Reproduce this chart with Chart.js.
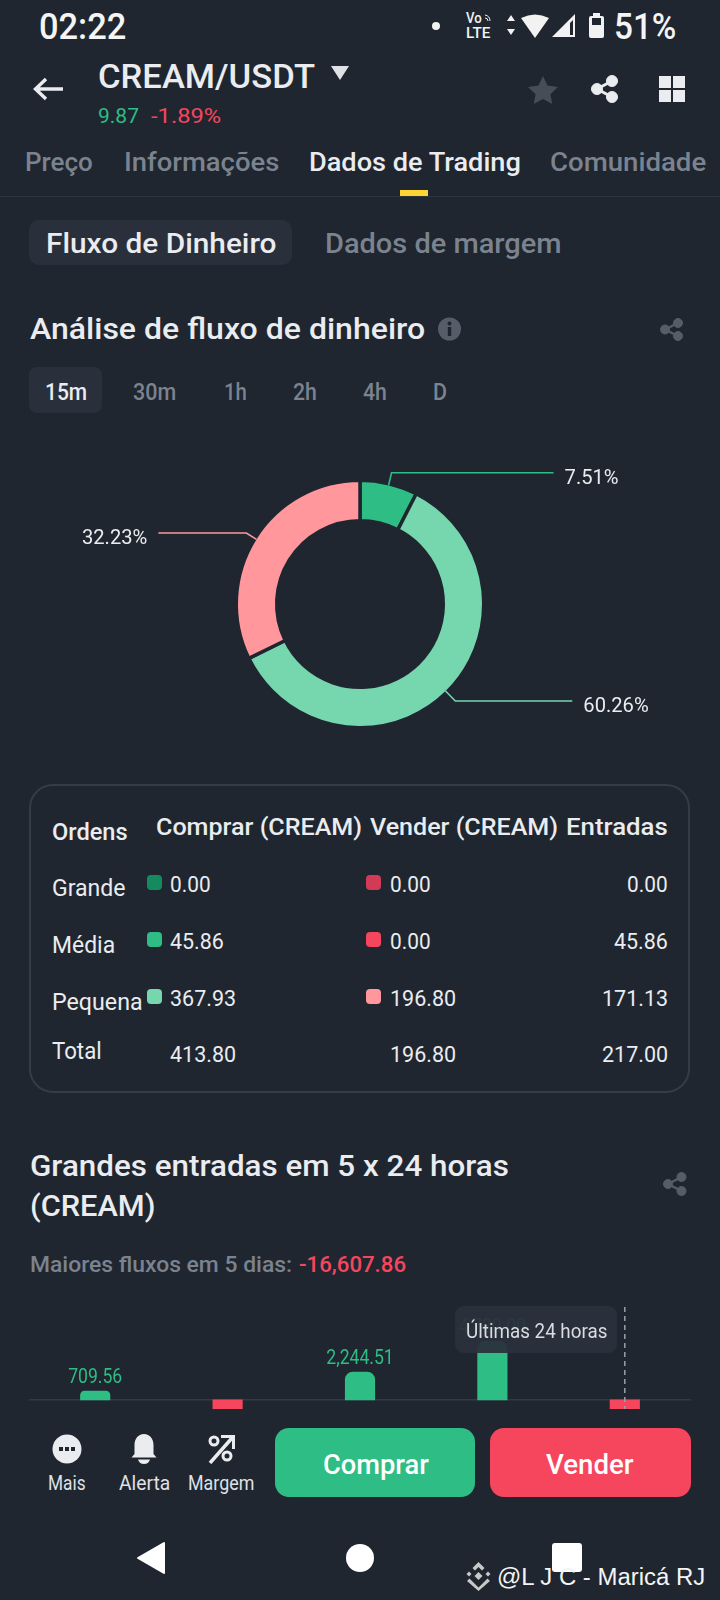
<!DOCTYPE html>
<html lang="pt">
<head>
<meta charset="utf-8">
<title>CREAM/USDT</title>
<script src="https://cdn.jsdelivr.net/npm/chart.js@4"></script>
<style>
    html, body { margin: 0; padding: 0; background: #1f2630; }
    #page { position: relative; width: 720px; height: 1600px; overflow: hidden; background: #1f2630; font-family: Roboto, sans-serif; }
    #page canvas, #page svg, .box { position: absolute; display: block; }
    .t { position: absolute; line-height: 1; white-space: nowrap; transform-origin: left center; }
</style>
</head>
<body>
<div id="page">
    <div class="box" style="left:0;top:196px;width:720px;height:1px;background:#2f3640"></div>
    <div class="box" style="left:400px;top:190px;width:28px;height:6px;background:#fcd535"></div>
    <div class="box" style="left:29px;top:220px;width:263px;height:45px;background:#29303c;border-radius:10px"></div>
    <div class="box" style="left:29px;top:367px;width:73px;height:46px;background:#29303c;border-radius:8px"></div>
    <div class="box" style="left:29px;top:784px;width:657px;height:305px;border:2px solid #363c47;border-radius:24px"></div>

    <canvas id="fluxoChart" width="720" height="328" style="left:0;top:440px;width:720px;height:328px"></canvas>
    <canvas id="entradasChart" width="662" height="299" style="left:29px;top:1301px;width:662px;height:299px"></canvas>

    <div class="box" id="tip" style="left:455px;top:1306px;width:162px;height:47px;background:rgba(43,49,60,.94);border-radius:9px"></div>
    <div class="box" id="panel" style="left:0;top:1409px;width:720px;height:191px;background:#1f2630"></div>
    <div class="box" id="btnBuy" style="left:275px;top:1428px;width:200px;height:69px;background:#2ebd85;border-radius:14px"></div>
    <div class="box" id="btnSell" style="left:490px;top:1428px;width:201px;height:69px;background:#f6465d;border-radius:14px"></div>

    <!-- barra de estado -->
    <svg style="left:430px;top:20px" width="12" height="12"><circle cx="6" cy="6" r="4" fill="#f2f2f2"/></svg>
    <svg style="left:484px;top:12px" width="12" height="14" fill="none" stroke="#f2f2f2" stroke-width="1"><path d="M1 3q5 1 5 6M1 6q3 0 3 3"/></svg>
    <svg style="left:505px;top:12px" width="175" height="30" fill="#f2f2f2">
        <path d="M6 3l4 6H2zM2 17h8l-4 6z"/>
        <path d="M16 6q14-7 28 0L30 26z"/>
        <path d="M70 25H47L70 2zM68 23V8l-3 3v12z" fill-rule="evenodd"/>
        <rect x="84" y="4" width="15" height="22" rx="2"/>
        <rect x="88" y="1" width="7" height="4"/>
        <rect x="87" y="6" width="9" height="7" fill="#1f2630"/>
    </svg>

    <!-- cabecera -->
    <svg style="left:32px;top:76px" width="32" height="26" fill="none" stroke="#eaecef" stroke-width="3.4"><path d="M31 13H4M14 3L3.5 13 14 23"/></svg>
    <svg style="left:331px;top:65px" width="19" height="16" fill="#dfe1e5"><path d="M0 1h18L9 15z"/></svg>
    <svg style="left:528px;top:76px" width="30" height="28" fill="#474d57"><path d="M15 0l4.5 9.6L30 11l-7.6 7.2L24.3 28 15 23l-9.3 5 1.9-9.8L0 11l10.5-1.4z"/></svg>
    <svg style="left:591px;top:75px" width="27" height="28" fill="#eaecef" stroke="#eaecef"><circle cx="21" cy="6" r="5.5"/><circle cx="6" cy="14" r="5.5"/><circle cx="21" cy="22" r="5.5"/><path d="M21 6L6 14l15 8" fill="none" stroke-width="3"/></svg>
    <svg style="left:659px;top:76px" width="26" height="26" fill="#eaecef"><rect width="12" height="12"/><rect x="14" width="12" height="12"/><rect y="14" width="12" height="12"/><rect x="14" y="14" width="12" height="12"/></svg>

    <!-- iconos de secciones -->
    <svg style="left:438px;top:317px" width="23" height="24"><circle cx="11.5" cy="12" r="11.5" fill="#565d69"/><rect x="9.8" y="10" width="3.4" height="9" fill="#1f2630"/><circle cx="11.5" cy="6.5" r="2" fill="#1f2630"/></svg>
    <svg style="left:660px;top:318px" width="23" height="23" fill="#565d69" stroke="#565d69"><circle cx="18" cy="5" r="4.5"/><circle cx="5" cy="11.5" r="4.5"/><circle cx="18" cy="18" r="4.5"/><path d="M18 5L5 11.5 18 18" fill="none" stroke-width="2.5"/></svg>
    <svg style="left:663px;top:1172px" width="24" height="24" fill="#565d69" stroke="#565d69"><circle cx="18.5" cy="5" r="4.5"/><circle cx="5" cy="12" r="4.5"/><circle cx="18.5" cy="19" r="4.5"/><path d="M18.5 5L5 12l13.5 7" fill="none" stroke-width="2.5"/></svg>

    <!-- cuadritos de la tabla -->
    <div class="box" style="left:147px;top:875px;width:15px;height:15px;border-radius:4px;background:#168a5f"></div>
    <div class="box" style="left:147px;top:932px;width:15px;height:15px;border-radius:4px;background:#2ebd85"></div>
    <div class="box" style="left:147px;top:989px;width:15px;height:15px;border-radius:4px;background:#76d6ae"></div>
    <div class="box" style="left:366px;top:875px;width:15px;height:15px;border-radius:4px;background:#d23a55"></div>
    <div class="box" style="left:366px;top:932px;width:15px;height:15px;border-radius:4px;background:#f6465d"></div>
    <div class="box" style="left:366px;top:989px;width:15px;height:15px;border-radius:4px;background:#ff979d"></div>

    <!-- barra inferior -->
    <svg style="left:52px;top:1434px" width="30" height="30"><circle cx="15" cy="15" r="14.5" fill="#eaecef"/><rect x="7" y="13" width="4" height="4" fill="#1f2630"/><rect x="13" y="13" width="4" height="4" fill="#1f2630"/><rect x="19" y="13" width="4" height="4" fill="#1f2630"/></svg>
    <svg style="left:130px;top:1434px" width="28" height="30" fill="#eaecef"><path d="M14 0c6 0 9.5 5 9.5 11v9l3 3.5H1.5l3-3.500v-9C4.5 5 8 0 14 0z"/><path d="M8 25.5h12c-1 3-3 4.5-6 4.5s-5-1.500-6-4.500z"/></svg>
    <svg style="left:207px;top:1434px" width="28" height="30" fill="none" stroke="#eaecef"><circle cx="7" cy="7" r="4" stroke-width="3"/><circle cx="20" cy="22" r="4" stroke-width="3"/><path d="M3 29L25 4" stroke-width="3.5"/><path d="M14 2.5h12.5V15" stroke-width="3"/></svg>
    <svg style="left:136px;top:1541px" width="30" height="34" fill="#fff"><path d="M28 2v30L2 17z" stroke="#fff" stroke-width="2" stroke-linejoin="round"/></svg>
    <svg style="left:345px;top:1543px" width="30" height="30" fill="#fff"><circle cx="15" cy="15" r="14"/></svg>
    <svg style="left:552px;top:1543px" width="30" height="30" fill="#fff"><rect width="30" height="29" rx="3"/></svg>
    <svg style="left:464px;top:1562px" width="29" height="29" fill="#c9c9c9"><path d="M14.5 0l6 6-2.5 2.500-3.500-3.500-3.500 3.500L8.500 6zM5 9.500l2.500 2.500-2.500 2.500L2.500 12zM24 9.500l2.500 2.500-2.500 2.500-2.500-2.500zM14.500 10l4 4-4 4-4-4zM5.500 16.500l9 9 9-9 2.500 2.500-11.500 10L3 19z"/></svg>

    <div id="texts"></div>
</div>

<script>
/* datos del grafico de anillo */
const sliceLabels = ["Media compra", "Pequena compra", "Pequena venda"];
const sliceValues = [7.51, 60.26, 32.23];
const sliceColors = ["#2ebd85", "#76d6ae", "#ff979d"];

/* datos de las barras, las dos rojas y la cuarta se estiman porque estan tapadas */
const dayLabels = ["Dia 1", "Dia 2", "Dia 3", "Dia 4", "Ultimas 24 horas"];
const dayValues = [709.56, -12000, 2244.51, 4730, -12287];

/* tabla de ordens */
const rowLabels = ["Grande", "Média", "Pequena", "Total"];
const buyValues = ["0.00", "45.86", "367.93", "413.80"];
const sellValues = ["0.00", "0.00", "196.80", "196.80"];
const inflowValues = ["0.00", "45.86", "171.13", "217.00"];

const GREEN = "#2ebd85";
const RED = "#f6465d";
const WHITE = "#eaecef";
const GREY = "#7b838f";

/* texto absoluto: x izquierda, y centro, ancho final medido en la referencia */
function txt(s, x, y, size, color, weight, width, family) {
    const el = document.createElement("span");
    el.className = "t";
    el.textContent = s;
    el.style.left = x + "px";
    el.style.top = y + "px";
    el.style.fontSize = size + "px";
    el.style.color = color;
    el.style.fontWeight = weight || 400;
    if (family) el.style.fontFamily = family;
    document.getElementById("texts").appendChild(el);
    const k = width ? width / el.offsetWidth : 1;
    el.style.transform = `translateY(-50%) scaleX(${k})`;
}

// barra de estado y cabecera
txt("02:22", 39, 27, 36, "#f5f5f5", 500, 87);
txt("51%", 614, 27, 36, "#f5f5f5", 500, 62);
txt("Vo", 466, 18, 14, "#f2f2f2", 500, 16);
txt("LTE", 466, 33, 14, "#f2f2f2", 500, 24);
txt("CREAM/USDT", 98, 76, 33, WHITE, 500, 217);
txt("9.87", 98, 116, 21, GREEN, 400, 41);
txt("-1.89%", 151, 116, 21, RED, 400, 70);

// pestanas
txt("Preço", 25, 162, 26, GREY, 500, 68);
txt("Informações", 124, 162, 26, GREY, 500, 155);
txt("Dados de Trading", 309, 162, 26, WHITE, 500, 212);
txt("Comunidade", 550, 162, 26, GREY, 500, 156);
txt("Fluxo de Dinheiro", 46, 244, 28, WHITE, 500, 231);
txt("Dados de margem", 325, 244, 28, GREY, 500, 237);

// seccion de fluxo
txt("Análise de fluxo de dinheiro", 30, 329, 30, WHITE, 500, 395);
txt("15m", 45, 392, 23, WHITE, 500, 42);
txt("30m", 133, 392, 23, GREY, 500, 43);
txt("1h", 224, 392, 23, GREY, 500, 23);
txt("2h", 293, 392, 23, GREY, 500, 24);
txt("4h", 363, 392, 23, GREY, 500, 24);
txt("D", 433, 392, 23, GREY, 500, 14);

// tabla
txt("Ordens", 52, 832, 23, WHITE, 500, 76);
txt("Comprar (CREAM)", 156, 827, 24, WHITE, 500, 206);
txt("Vender (CREAM)", 370, 827, 24, WHITE, 500, 188);
txt("Entradas", 566, 827, 24, WHITE, 500, 102);
const labelY = [888, 945, 1002, 1051];
const valueY = [885, 942, 999, 1055];
const labelW = [74, 63, 91, 50];
const valueChar = 12.9;
rowLabels.forEach((label, i) => {
    txt(label, 52, labelY[i], 24, WHITE, 400, labelW[i]);
    const buyW = (buyValues[i].length - 1) * valueChar + 2;
    const sellW = (sellValues[i].length - 1) * valueChar + 2;
    const inW = (inflowValues[i].length - 1) * valueChar + 2;
    txt(buyValues[i], 170, valueY[i], 22, WHITE, 400, buyW);
    txt(sellValues[i], 389.5, valueY[i], 22, WHITE, 400, sellW);
    txt(inflowValues[i], 668 - inW, valueY[i], 22, WHITE, 400, inW);
});

// seccion de entradas
txt("Grandes entradas em 5 x 24 horas", 30, 1166, 30, WHITE, 500, 479);
txt("(CREAM)", 30, 1206, 30, WHITE, 500, 125);
txt("Maiores fluxos em 5 dias:", 30, 1265, 22, GREY, 500, 262);
txt("-16,607.86", 299, 1265, 22, RED, 500, 107);
txt("Últimas 24 horas", 466, 1331, 20, "#d9dce1", 400, 141);

// barra inferior
txt("Mais", 48, 1483, 20, "#dfe1e5", 400, 38);
txt("Alerta", 119, 1483, 20, "#dfe1e5", 400, 51);
txt("Margem", 188, 1483, 20, "#dfe1e5", 400, 66);
txt("Comprar", 323, 1465, 27, "#fff", 500, 106);
txt("Vender", 546, 1465, 27, "#fff", 500, 88);
txt("@L J C - Maricá RJ", 497, 1577, 23, "#f4f4f4", 400, 208, '"Liberation Sans", sans-serif');

/* lineas guia y porcentajes del anillo */
const leaderOut = [13, 14, 12];
const leaderLen = [162, 117, 88];
const leaderPlugin = {
    id: "leaderPlugin",
    afterDatasetsDraw(chart) {
        const ctx = chart.ctx;
        chart.getDatasetMeta(0).data.forEach((arc, i) => {
            const p = arc.getProps(["x", "y", "startAngle", "endAngle", "outerRadius"], true);
            const mid = (p.startAngle + p.endAngle) / 2;
            const r = p.outerRadius - 1.75;
            const x0 = p.x + Math.cos(mid) * r;
            const y0 = p.y + Math.sin(mid) * r;
            const x1 = p.x + Math.cos(mid) * (r + leaderOut[i]);
            const y1 = p.y + Math.sin(mid) * (r + leaderOut[i]);
            const dir = Math.cos(mid) >= 0 ? 1 : -1;
            const x2 = x1 + dir * leaderLen[i];
            ctx.save();
            ctx.strokeStyle = sliceColors[i];
            ctx.lineWidth = 1.6;
            ctx.beginPath();
            ctx.moveTo(x0, y0);
            ctx.lineTo(x1, y1);
            ctx.lineTo(x2, y1);
            ctx.stroke();
            const label = sliceValues[i].toFixed(2) + "%";
            ctx.font = "400 21px Roboto";
            ctx.fillStyle = WHITE;
            ctx.textBaseline = "middle";
            ctx.textAlign = dir > 0 ? "left" : "right";
            const w = ctx.measureText(label).width * 0.96;
            ctx.fillText(label, x2 + dir * 11, y1 + 6, w);
            ctx.restore();
        });
    },
};

new Chart(document.getElementById("fluxoChart"), {
    type: "doughnut",
    data: {
        labels: sliceLabels,
        datasets: [
            {
                data: sliceValues,
                backgroundColor: sliceColors,
                borderColor: "#1f2630",
                borderWidth: 3.5,
            },
        ],
    },
    options: {
        responsive: false,
        animation: false,
        radius: 123.75,
        cutout: "67.3%",
        plugins: { legend: { display: false }, tooltip: { enabled: false } },
    },
    plugins: [leaderPlugin],
});

/* eje en cero, linea punteada y numeros encima de cada barra */
const barExtras = {
    id: "barExtras",
    beforeDatasetsDraw(chart) {
        const ctx = chart.ctx;
        const y = chart.scales.y.getPixelForValue(0);
        ctx.save();
        ctx.strokeStyle = "#333a45";
        ctx.lineWidth = 1.5;
        ctx.beginPath();
        ctx.moveTo(chart.chartArea.left, y);
        ctx.lineTo(chart.chartArea.right, y);
        ctx.stroke();
        ctx.restore();
    },
    afterDatasetsDraw(chart) {
        const ctx = chart.ctx;
        const bars = chart.getDatasetMeta(0).data;
        ctx.save();
        ctx.font = "400 20px Roboto";
        ctx.textAlign = "center";
        ctx.textBaseline = "middle";
        bars.forEach((bar, i) => {
            const v = dayValues[i];
            const label = v.toLocaleString("en-US", { minimumFractionDigits: 2, maximumFractionDigits: 2 });
            ctx.fillStyle = v >= 0 ? GREEN : RED;
            const w = ctx.measureText(label).width * 0.88;
            ctx.fillText(label, bar.x, v >= 0 ? bar.y - 13.5 : bar.y + 15, w);
        });
        const last = bars[bars.length - 1];
        ctx.strokeStyle = "#9aa0aa";
        ctx.lineWidth = 1.5;
        ctx.setLineDash([5, 4]);
        ctx.beginPath();
        ctx.moveTo(last.x, 6);
        ctx.lineTo(last.x, 108);
        ctx.stroke();
        ctx.restore();
    },
};

new Chart(document.getElementById("entradasChart"), {
    type: "bar",
    data: {
        labels: dayLabels,
        datasets: [
            {
                data: dayValues,
                backgroundColor: dayValues.map((v) => (v >= 0 ? GREEN : RED)),
                barThickness: 29.5,
                borderRadius: 8,
            },
        ],
    },
    options: {
        responsive: false,
        animation: false,
        scales: {
            x: { display: false },
            y: { display: false, min: -16200, max: 8000 },
        },
        plugins: { legend: { display: false }, tooltip: { enabled: false } },
    },
    plugins: [barExtras],
});
</script>
</body>
</html>
